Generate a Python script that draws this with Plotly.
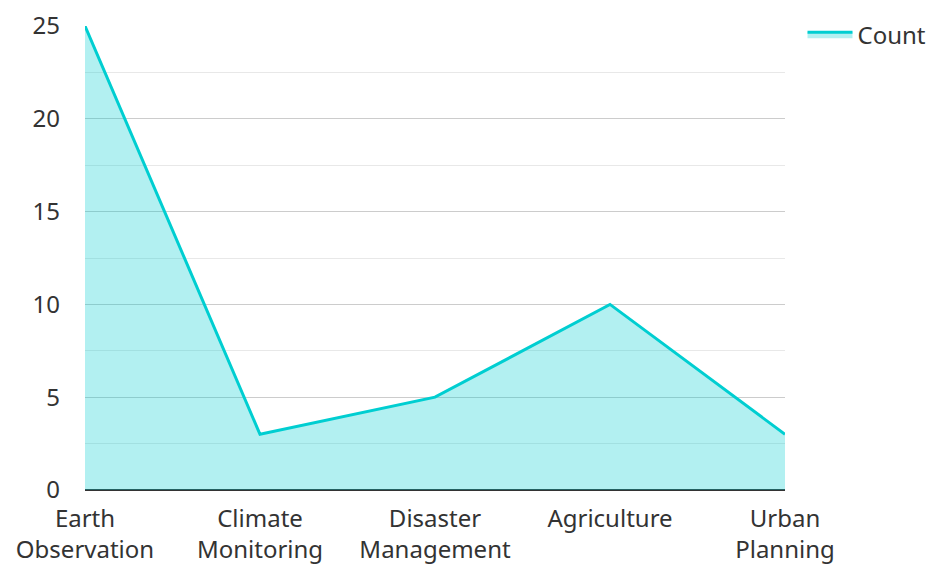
import plotly.graph_objects as go

# Application areas and their counts
categories = ["Earth<br>Observation", "Climate<br>Monitoring", "Disaster<br>Management",
              "Agriculture", "Urban<br>Planning"]
counts = [25, 3, 5, 10, 3]

fig = go.Figure()
fig.add_trace(go.Scatter(
    x=categories,
    y=counts,
    name="Count",
    mode="lines",
    fill="tozeroy",
    line=dict(color="#00CED1", width=3),
    fillcolor="rgba(0,206,209,0.3)",
))

fig.update_layout(
    width=943,
    height=564,
    margin=dict(l=85, r=157, t=23, b=74),
    paper_bgcolor="white",
    plot_bgcolor="white",
    font=dict(family="Noto Sans", size=24, color="#333333"),
    showlegend=True,
    legend=dict(x=1.025, y=1.03, xanchor="left", yanchor="top", itemwidth=45,
                font=dict(size=24, color="#333333"), borderwidth=0),
    xaxis=dict(
        range=[0, 4],
        automargin=False,
        showgrid=False,
        ticks="",
        showline=False,
        zeroline=False,
        ticklabelstandoff=12,
        tickfont=dict(size=24, color="#333333"),
    ),
    yaxis=dict(
        range=[0, 25],
        automargin=False,
        tickvals=[0, 5, 10, 15, 20, 25],
        showgrid=True,
        gridcolor="#cccccc",
        gridwidth=1,
        minor=dict(dtick=2.5, showgrid=True, gridcolor="#e8e8e8", gridwidth=1),
        zeroline=True,
        zerolinecolor="#333333",
        zerolinewidth=2,
        ticks="",
        ticklabelstandoff=24,
        tickfont=dict(size=24, color="#333333"),
    ),
)

fig.write_html("out.html")
